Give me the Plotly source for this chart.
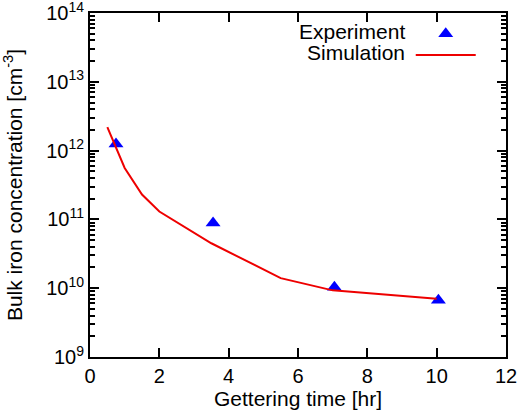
import plotly.graph_objects as go

exp_time = [0.75, 3.55, 7.05, 10.05]
exp_conc = [1.25e12, 8.9e10, 1.03e10, 6.7e9]

# simulation curve
sim_time = [0.5, 1.0, 1.5, 2.0, 3.5, 5.5, 7.0, 10.0]
sim_conc = [2.2e12, 5.6e11, 2.3e11, 1.3e11, 4.5e10, 1.4e10, 9.3e9, 7.0e9]

y_decades = [9, 10, 11, 12, 13, 14]
x_ticks = [0, 2, 4, 6, 8, 10, 12]

FONT = "Liberation Sans, Arial, Helvetica, sans-serif"

fig = go.Figure()
fig.add_trace(go.Scatter(
    x=exp_time, y=exp_conc, mode="markers", name="",
    marker=dict(symbol="triangle-up", size=13, color="#0000ff"),
))
fig.add_trace(go.Scatter(
    x=sim_time, y=sim_conc, mode="lines", name="",
    line=dict(color="#ee0000", width=2),
))

major_y = [10 ** d for d in y_decades]
minor_y = [k * 10 ** d for d in y_decades[:-1] for k in range(2, 10)]

axis_common = dict(
    showline=True, linecolor="black", linewidth=2, mirror="allticks",
    ticks="inside", ticklen=9, tickwidth=2, tickcolor="black",
    showgrid=False, zeroline=False, automargin=False,
    ticklabeloverflow="allow", tickfont=dict(size=20, color="black"),
)

fig.update_xaxes(
    range=[-0.0001, 12.0001], tickvals=x_ticks,
    title=dict(text="Gettering time [hr]", font=dict(size=21, color="black"), standoff=2),
    **axis_common,
)
fig.update_yaxes(
    type="log", range=[8.9999, 14.0001],
    tickvals=major_y,
    ticktext=[f"10<sup>{d}</sup>" for d in y_decades],
    minor=dict(tickvals=minor_y, ticks="inside", ticklen=5, tickcolor="black", tickwidth=1.5),
    title=dict(text="Bulk iron concentration [cm<sup>-3</sup>]", font=dict(size=21, color="black"), standoff=19),
    **axis_common,
)

fig.update_layout(
    template="none",
    width=520, height=414,
    margin=dict(l=90, r=14, t=13, b=57),
    paper_bgcolor="white", plot_bgcolor="white",
    font=dict(family=FONT, size=21, color="black"),
    showlegend=True,
    legend=dict(x=0.771, y=0.985, xanchor="left", yanchor="top",
                bgcolor="rgba(0,0,0,0)", itemwidth=60, tracegroupgap=0,
                font=dict(size=14)),
    annotations=[
        dict(x=0.762, y=0.945, xref="paper", yref="paper", xanchor="right", yanchor="middle",
             text="Experiment", showarrow=False, font=dict(size=21)),
        dict(x=0.762, y=0.884, xref="paper", yref="paper", xanchor="right", yanchor="middle",
             text="Simulation", showarrow=False, font=dict(size=21)),
    ],
)

fig.write_html("out.html", config={"displayModeBar": False},
               post_script="document.body.style.margin='0px';")
